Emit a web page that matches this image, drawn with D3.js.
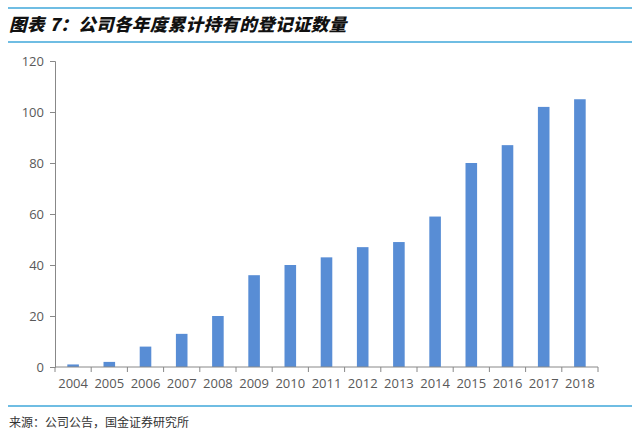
<!DOCTYPE html>
<html>
<head>
<meta charset="utf-8">
<script src="https://cdn.jsdelivr.net/npm/d3@7"></script>
<style>
  body { margin: 0; background: #fff; }
  svg { display: block; font-family: "Noto Sans CJK SC", "Open Sans", sans-serif; }
  .tick text { fill: #595959; }
</style>
</head>
<body>
<script>
const years = ['2004', '2005', '2006', '2007', '2008', '2009', '2010', '2011',
  '2012', '2013', '2014', '2015', '2016', '2017', '2018'];
const counts = [1, 2, 8, 13, 20, 36, 40, 43, 47, 49, 59, 80, 87, 102, 105];
const yTicks = [0, 20, 40, 60, 80, 100, 120];

const W = 640, H = 435;
const plotLeft = 55, plotRight = 598, plotTop = 61, plotBottom = 367;

const svg = d3.select('body').append('svg')
  .attr('width', W).attr('height', H);

// header / footer rules
[8, 42, 406].forEach(yy => {
  svg.append('line')
    .attr('x1', 8).attr('x2', 632)
    .attr('y1', yy).attr('y2', yy)
    .attr('stroke', '#3FA7DA')
    .attr('stroke-width', 1.5);
});

svg.append('text')
  .attr('x', 9).attr('y', 31)
  .attr('font-size', 17.5)
  .attr('font-weight', 900)
  .attr('font-style', 'italic')
  .attr('letter-spacing', 0.4)
  .attr('fill', '#111')
  .text('图表 7：公司各年度累计持有的登记证数量');

svg.append('text')
  .attr('x', 9).attr('y', 427)
  .attr('font-size', 12)
  .attr('fill', '#333')
  .text('来源：公司公告，国金证券研究所');

const x = d3.scaleBand().domain(years).range([plotLeft, plotRight]).paddingInner(0.68).paddingOuter(0.34);
const y = d3.scaleLinear().domain([0, 120]).range([plotBottom, plotTop]);

svg.append('g')
  .selectAll('rect')
  .data(years)
  .join('rect')
    .attr('x', (d) => x(d))
    .attr('y', (d, i) => y(counts[i]))
    .attr('width', x.bandwidth())
    .attr('height', (d, i) => y(0) - y(counts[i]))
    .attr('fill', '#588DD5');

// y axis
const yAxis = svg.append('g')
  .attr('transform', `translate(${plotLeft},0)`)
  .call(d3.axisLeft(y).tickValues(yTicks).tickSize(5).tickPadding(6));
yAxis.select('.domain').attr('stroke', '#888');
yAxis.selectAll('.tick line').attr('stroke', '#888');
yAxis.selectAll('.tick text').attr('font-size', 13).attr('font-family', 'Open Sans, sans-serif');

// x axis, ticks sit between categories
const xAxis = svg.append('g')
  .attr('transform', `translate(0,${plotBottom})`)
  .call(d3.axisBottom(x).tickSize(0).tickPadding(12));
xAxis.select('.domain').attr('stroke', '#888').attr('d', `M${plotLeft},0H${plotRight}`);
xAxis.selectAll('.tick text').attr('font-size', 13).attr('font-family', 'Open Sans, sans-serif');

svg.append('g')
  .selectAll('line')
  .data(d3.range(years.length + 1))
  .join('line')
    .attr('x1', i => plotLeft + i * (plotRight - plotLeft) / years.length)
    .attr('x2', i => plotLeft + i * (plotRight - plotLeft) / years.length)
    .attr('y1', plotBottom).attr('y2', plotBottom + 5)
    .attr('stroke', '#888');
</script>
</body>
</html>
